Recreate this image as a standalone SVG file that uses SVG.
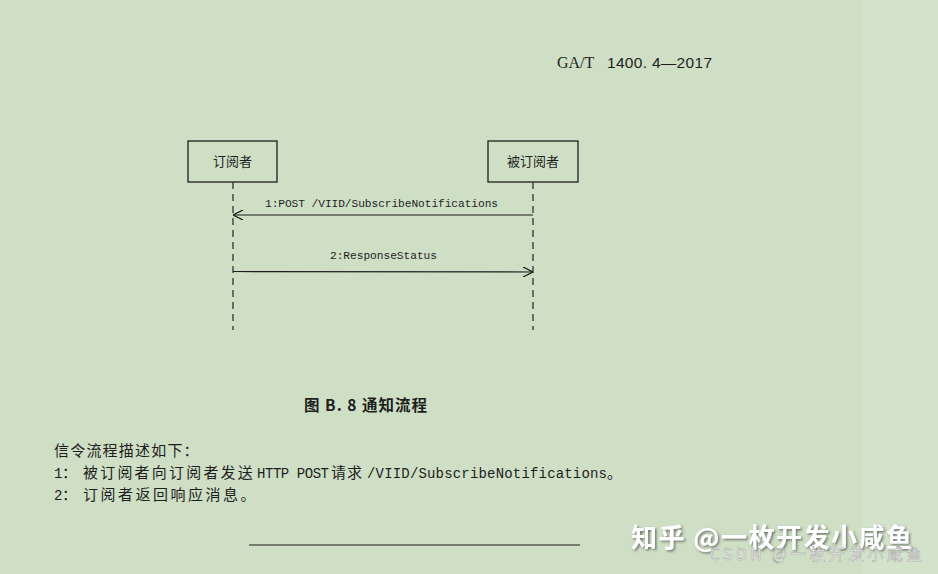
<svg xmlns="http://www.w3.org/2000/svg" width="938" height="574" viewBox="0 0 938 574">
<style>
.box{fill:none;stroke:#1e1e1e;stroke-width:1.3}
.life{stroke:#333;stroke-width:1.3;stroke-dasharray:7,5}
.msg{stroke:#1e1e1e;stroke-width:1.2;fill:none}
.lbl{font-family:"Liberation Mono",monospace;font-size:11.2px;fill:#1e1e1e}
.nt{font-family:"Noto Sans CJK SC",sans-serif;font-size:13px;fill:#1e1e1e;text-anchor:middle}
.body{font-family:"Liberation Mono","Noto Sans CJK SC",monospace;font-size:14px;fill:#1e1e1e}
.cjk{font-family:"Noto Sans CJK SC",sans-serif;font-size:15px;fill:#1e1e1e}
</style>
<defs>
<marker id="open" viewBox="0 0 10 10" refX="10" refY="5" markerWidth="10" markerHeight="10" markerUnits="userSpaceOnUse" orient="auto">
<path d="M0,0 L10,5 L0,10" fill="none" stroke="#1e1e1e" stroke-width="1.2"/>
</marker>
<filter id="sh" x="-5%" y="-30%" width="110%" height="160%">
<feDropShadow dx="1.5" dy="1.5" stdDeviation="0.8" flood-color="#333" flood-opacity="0.6"/>
</filter>
</defs>
<rect x="0" y="0" width="938" height="574" fill="#cedfc5"/>
<rect x="862" y="0" width="76" height="574" fill="#d3e2ca"/>
<text x="557" y="68" font-family="Liberation Serif,serif" font-size="16" fill="#1e1e1e">GA/T</text>
<text x="607" y="68" font-family="Liberation Sans,sans-serif" font-size="15.5" fill="#1e1e1e" textLength="105">1400. 4—2017</text>
<g id="subscriber">
<rect class="box" x="188" y="141" width="89" height="41"/>
<text class="nt" x="232.5" y="166">订阅者</text>
</g>
<g id="publisher">
<rect class="box" x="488" y="141" width="90" height="41"/>
<text class="nt" x="533" y="166">被订阅者</text>
</g>
<g id="connectors">
<line class="life" x1="233" y1="182" x2="233" y2="330"/>
<line class="life" x1="533" y1="182" x2="533" y2="330"/>
<line class="msg" x1="533" y1="215" x2="233" y2="215" marker-end="url(#open)"/>
<text class="lbl" x="265" y="207" textLength="233">1:POST /VIID/SubscribeNotifications</text>
<line class="msg" x1="233" y1="271.5" x2="533" y2="272" marker-end="url(#open)"/>
<text class="lbl" x="330" y="259" textLength="107">2:ResponseStatus</text>
</g>
<text x="304" y="411" font-family="Noto Sans CJK SC,sans-serif" font-weight="bold" font-size="15.5" fill="#1e1e1e" textLength="123">图 B. 8 通知流程</text>
<text class="cjk" x="54" y="456" letter-spacing="1.2">信令流程描述如下：</text>
<text class="body" y="478"><tspan x="54">1</tspan><tspan class="cjk" x="62">：</tspan><tspan class="cjk" x="83" letter-spacing="2.2">被订阅者向订阅者发送</tspan><tspan x="257" textLength="72">HTTP POST</tspan><tspan class="cjk" x="331" letter-spacing="1">请求</tspan><tspan x="367" textLength="240">/VIID/SubscribeNotifications</tspan><tspan class="cjk" x="607">。</tspan></text>
<text class="body" y="500"><tspan x="54">2</tspan><tspan class="cjk" x="62">：</tspan><tspan class="cjk" x="83" letter-spacing="2.5">订阅者返回响应消息。</tspan></text>
<line x1="249" y1="545" x2="580" y2="545" stroke="#1e1e1e" stroke-width="1.2"/>
<text x="631" y="547" font-family="Noto Sans CJK SC,sans-serif" font-size="26" font-weight="bold" fill="#ffffff" filter="url(#sh)" textLength="281">知乎 @一枚开发小咸鱼</text>
<text x="710" y="560" font-family="Noto Sans CJK SC,sans-serif" font-size="16" fill="#eeeeee" stroke="#9a9a9a" stroke-width="0.4" textLength="212">CSDN @一枚开发小咸鱼</text>
</svg>
